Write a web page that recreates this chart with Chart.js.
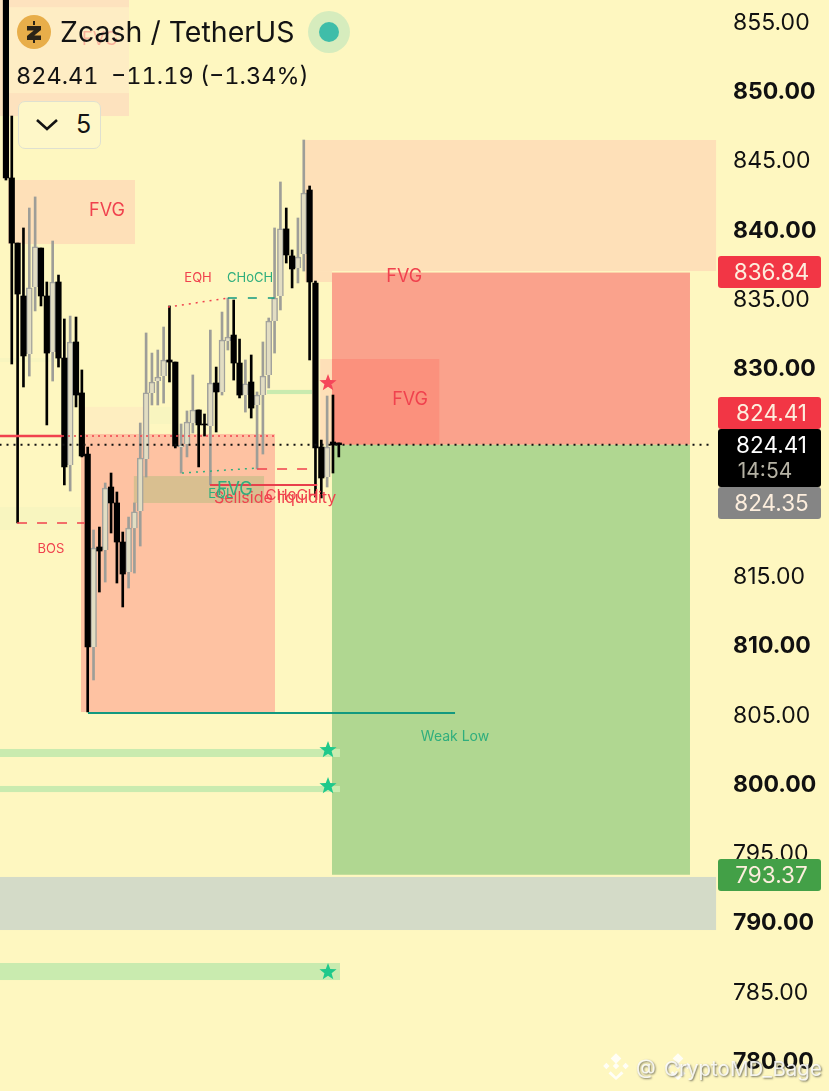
<!DOCTYPE html>
<html>
<head>
<meta charset="utf-8">
<title>Zcash / TetherUS</title>
<script src="https://cdn.jsdelivr.net/npm/chart.js@4"></script>
<style>
    html, body { margin: 0; padding: 0; background: #fef7c0; overflow: hidden; }
    #wrap { position: relative; width: 829px; height: 1091px; font-family: Inter, sans-serif; color: #131313; }
    #wrap div, #wrap svg { position: absolute; }
    .mark { color: rgba(255,255,255,0.85); text-shadow: 1px 1px 2px rgba(70,70,60,0.75); font-size: 20.500px; white-space: nowrap; }
</style>
</head>
<body>
<div id="wrap">
    <canvas id="chart"></canvas>
    <svg style="left:17px;top:15px" width="34" height="34" viewBox="0 0 34 34">
        <circle cx="17" cy="17" r="17" fill="#e8ae4a"/>
        <path d="M17 6v4M17 24v4M11 12h12v2.5L14.5 21.5H23v2.500H11v-2.500L19.500 14.500H11z" stroke="#2b2418" stroke-width="2" fill="#2b2418"/>
    </svg>
    <div style="left:60px;top:14px;font-size:28.500px;line-height:36px;white-space:nowrap">Zcash / TetherUS</div>
    <svg style="left:308px;top:11px" width="42" height="42">
        <circle cx="21" cy="21" r="21" fill="#d6ecbd"/>
        <circle cx="21" cy="21" r="10" fill="#3fbda9"/>
    </svg>
    <div style="left:16px;top:61px;font-size:23.500px;line-height:30px;white-space:pre;font-variant-numeric:tabular-nums">824.41  −11.19 (−1.34%)</div>
    <div style="left:18px;top:101px;width:81px;height:46px;border:1.5px solid #dfe0d0;border-radius:7px;background:#fef7c8"></div>
    <svg style="left:35px;top:118px" width="24" height="14"><path d="M2 2L12 11L22 2" stroke="#131313" stroke-width="2.600" fill="none"/></svg>
    <div style="left:76px;top:109px;font-size:25px;line-height:30px">5</div>
    <svg style="left:601px;top:1051px" width="30" height="30" viewBox="0 0 28 28" fill="rgba(255,255,255,0.85)">
        <path d="M14 2l5 5-5 5-5-5zM5 11l3 3-3 3-3-3zM23 11l3 3-3 3-3-3zM14 11l3 3-3 3-3-3zM9 19l5 5 5-5 2 2-7 6-7-6z"/>
    </svg>
    <svg style="left:663px;top:1051px" width="30" height="30" viewBox="0 0 28 28" fill="rgba(255,255,255,0.85)">
        <path d="M14 2l5 5-5 5-5-5zM5 11l3 3-3 3-3-3zM23 11l3 3-3 3-3-3zM14 11l3 3-3 3-3-3zM9 19l5 5 5-5 2 2-7 6-7-6z"/>
    </svg>
    <div class="mark" style="left:636px;top:1054px">@</div>
    <div class="mark" style="left:664px;top:1056px">CryptoMD_Bage</div>
</div>

<script>
// candles, first one sits at bar 1
var firstBar = 1;
var candleOpen = [858, 843.67, 838.97, 835.15, 830.96, 835.80, 838.61, 835.15, 831.11, 836.16,
    830.67, 822.95, 831.83, 828.15, 823.74, 809.81, 817.03, 816.81, 821.36, 820.21,
    817.39, 815.23, 818.40, 819.63, 823.38, 828.15, 829.01, 829.37, 830.53, 830.38,
    824.25, 824.47, 825.98, 826.92, 825.91, 825.76, 828.87, 828.22, 831.90, 832.33,
    830.31, 828.00, 828.94, 827.28, 828.00, 829.45, 833.34, 835.15, 839.99, 838.04,
    837.17, 838.18, 842.80, 836.09, 824.25, 822.08, 824.61, 824.54];
var candleHigh = [858, 848.14, 838.97, 840.06, 841.50, 842.30, 838.61, 836.16, 839.12, 836.66,
    833.49, 833.70, 833.63, 829.81, 824.25, 818.26, 818.47, 821.65, 822.37, 821.00,
    818.11, 819.19, 820.21, 825.98, 832.48, 831.03, 831.25, 832.91, 834.43, 830.38,
    825.91, 826.85, 829.45, 826.92, 826.63, 832.69, 830.02, 833.99, 835.00, 834.86,
    832.04, 830.53, 830.89, 828.22, 831.83, 833.56, 840.06, 843.38, 841.50, 838.47,
    840.78, 846.41, 843.09, 836.23, 824.75, 827.93, 828.00, 824.54];
var candleLow = [843.52, 830.24, 818.76, 828.58, 829.37, 834.07, 834.43, 825.84, 829.01, 830.02,
    821.51, 821.07, 827.14, 823.53, 805.12, 807.43, 813.78, 814.50, 818.04, 814.43,
    812.70, 814.07, 815.15, 817.10, 822.08, 827.28, 827.28, 827.42, 828.94, 824.18,
    822.37, 823.53, 825.26, 822.81, 825.04, 821.51, 825.33, 828.00, 831.25, 829.08,
    827.79, 826.77, 826.34, 822.66, 823.74, 828.51, 831.03, 834.14, 837.53, 835.73,
    836.09, 836.95, 830.53, 820.64, 820.57, 821.36, 822.37, 823.53];
var candleClose = [843.67, 838.97, 835.29, 830.82, 835.73, 838.69, 835.15, 831.03, 836.16, 830.67,
    822.81, 831.83, 828.00, 823.60, 809.81, 816.96, 816.74, 821.29, 820.21, 817.39,
    815.08, 818.40, 819.56, 823.45, 828.15, 828.94, 829.30, 830.53, 830.38, 824.32,
    824.39, 826.05, 826.92, 825.84, 825.84, 828.87, 828.22, 831.97, 832.19, 830.31,
    828.00, 828.80, 827.06, 828.00, 829.37, 833.34, 835.00, 839.99, 838.11, 837.10,
    837.96, 842.58, 836.16, 824.18, 822.01, 824.25, 824.39, 824.41];

var tickPrices = [855, 850, 845, 840, 835, 830, 825, 820, 815, 810, 805, 800, 795, 790, 785, 780];

// zones: [left bar, right bar, top price, bottom price]
var peachZones = [[1.35, 23.1, 843.52, 838.9], [52.2, 122.6, 846.41, 836.95], [52.2, 56.83, 836.95, 836.16], [54.8, 56.83, 830.6, 824.41]];
var topFvgZone = [-0.1, 22.07, 857, 848.14];
var topFvgFade = [1.35, 22.07, 856, 849.8];
var stopZone = [56.83, 118.13, 836.84, 824.41];
var overlapZone = [56.83, 75.2, 830.6, 824.41];
var targetZone = [56.83, 118.13, 824.41, 793.37];
var salmonZone = [13.85, 47.07, 825.19, 805.12];
var faintPeachZone = [14.54, 24.5, 827.14, 825.19];
var tanZone = [22.9, 45.2, 822.15, 820.21];
var grayZone = [-0.1, 122.6, 793.21, 789.38];
var greenBands = [[-0.1, 58.2, 802.45, 801.87], [-0.1, 58.2, 799.78, 799.34], [-0.1, 58.2, 787.0, 785.77], [45.7, 53.4, 828.37, 828.07]];
var faintGreenZones = [[25.7, 29.3, 827.14, 825.91], [-0.1, 13.85, 819.92, 818.26], [-0.1, 10.2, 830.67, 830.38]];

// level lines: [bar, price, bar, price]
var blackDotted = [-0.1, 824.41, 121.9, 824.41];
var redSolid = [-0.1, 825.04, 10.6, 825.04];
var redDotted = [10.6, 825.04, 47.07, 825.04];
var bosLine = [2.9, 818.76, 14.5, 818.76];
var weakLowLine = [15.05, 805.05, 77.9, 805.05];
var eqhLine = [28.75, 834.35, 39, 835.0];
var chochLine = [39, 835.0, 47, 835.0];
var eqlLine = [31.15, 822.37, 44, 822.73];
var chochRedDash = [44, 822.66, 53.9, 822.66];
var sweepLine = [35.95, 821.51, 54.3, 821.51];

var starBars = [56.15, 56.15, 56.15, 56.15];
var starPrices = [828.87, 802.38, 799.78, 786.35];

var redLabels = ['FVG', 'FVG', 'FVG', 'EQH', 'BOS', 'CHoCH', 'Sellside liquidity'];
var redLabelBars = [18.3, 69.2, 70.2, 33.9, 8.7, 50, 47.1];
var redLabelPrices = [841.28, 836.52, 827.64, 836.45, 816.89, 820.78, 820.57];
var greenLabels = ['CHoCH', 'Weak Low', 'EQL', 'FVG'];
var greenLabelBars = [42.8, 77.9, 37.8, 40.2];
var greenLabelPrices = [836.45, 803.3, 820.86, 821.15];

var tagPrices = ['836.84', '824.41', '824.35', '793.37'];

// build bar data from the candle arrays
var wickBlack = [], wickGray = [], bodyBlack = [], bodyGray = [];
for (var i = 0; i < candleOpen.length; i++) {
    var bar = firstBar + i;
    if (candleClose[i] > candleOpen[i]) {
        wickGray.push({ x: bar, y: [candleLow[i], candleHigh[i]] });
        bodyGray.push({ x: bar, y: [candleOpen[i], candleClose[i]] });
    } else {
        wickBlack.push({ x: bar, y: [candleLow[i], candleHigh[i]] });
        bodyBlack.push({ x: bar, y: [candleClose[i], candleOpen[i]] });
    }
}

function lineSet(pts, color, width, dash) {
    return {
        type: 'line',
        data: [{ x: pts[0], y: pts[1] }, { x: pts[2], y: pts[3] }],
        borderColor: color,
        borderWidth: width,
        borderDash: dash || [],
        pointRadius: 0,
        order: 0
    };
}

function star(ctx, cx, cy, r, color) {
    ctx.beginPath();
    for (var k = 0; k < 10; k++) {
        var rad = k % 2 === 0 ? r : r * 0.42;
        var a = -Math.PI / 2 + k * Math.PI / 5;
        ctx.lineTo(cx + rad * Math.cos(a), cy + rad * Math.sin(a));
    }
    ctx.closePath();
    ctx.fillStyle = color;
    ctx.fill();
}

function labelSize(text, color) {
    if (text === 'FVG') return 18;
    if (text === 'Sellside liquidity') return 16;
    if (text === 'Weak Low') return 14;
    if (text === 'CHoCH' && color === '#f0424e') return 15;
    return 13;
}

var overlay = {
    id: 'overlay',
    beforeDatasetsDraw: function (chart) {
        var ctx = chart.ctx, sx = chart.scales.x, sy = chart.scales.y;
        function zone(z, color) {
            var x0 = sx.getPixelForValue(z[0]), x1 = sx.getPixelForValue(z[1]);
            var y0 = sy.getPixelForValue(z[2]), y1 = sy.getPixelForValue(z[3]);
            ctx.fillStyle = color;
            ctx.fillRect(x0, y0, x1 - x0, y1 - y0);
        }
        ctx.save();
        zone(topFvgZone, '#fde2be');
        zone(topFvgFade, '#feedc4');
        peachZones.forEach(function (z) { zone(z, '#fee0b8'); });
        zone(faintPeachZone, '#feeec0');
        zone(salmonZone, '#fec2a2');
        zone(tanZone, '#d9bf90');
        zone(stopZone, '#faa28c');
        zone(overlapZone, '#fb917d');
        zone(targetZone, '#b0d791');
        zone(grayZone, '#d4dbc8');
        greenBands.forEach(function (z) { zone(z, '#c9ebaf'); });
        faintGreenZones.forEach(function (z) { zone(z, '#f8f5bf'); });
        ctx.restore();
    },
    afterDatasetsDraw: function (chart) {
        var ctx = chart.ctx, sx = chart.scales.x, sy = chart.scales.y;
        ctx.save();
        ctx.textAlign = 'center';
        ctx.textBaseline = 'middle';

        function labels(texts, bars, prices, color) {
            ctx.fillStyle = color;
            texts.forEach(function (t, k) {
                ctx.font = labelSize(t, color) + 'px Inter, sans-serif';
                ctx.fillText(t, sx.getPixelForValue(bars[k]), sy.getPixelForValue(prices[k]));
            });
        }
        labels(redLabels, redLabelBars, redLabelPrices, '#f0424e');
        labels(greenLabels, greenLabelBars, greenLabelPrices, '#2fae7d');

        // FVG washed out behind the header
        ctx.fillStyle = 'rgba(240,66,78,0.35)';
        ctx.font = '18px Inter, sans-serif';
        ctx.fillText('FVG', sx.getPixelForValue(17.1), sy.getPixelForValue(853.63));

        starBars.forEach(function (b, k) {
            star(ctx, sx.getPixelForValue(b), sy.getPixelForValue(starPrices[k]), 9, k === 0 ? '#f5465a' : '#1fc98b');
        });

        // price tags on the axis
        function tag(top, h, color) {
            ctx.fillStyle = color;
            ctx.beginPath();
            ctx.roundRect(718, top, 103, h, 3);
            ctx.fill();
        }
        var tagCenter = [272, 413, 503, 875];
        var tagColor = ['#f23645', '#f23645', '#858585', '#43a047'];
        tagPrices.forEach(function (t, k) {
            tag(tagCenter[k] - 16, 32, tagColor[k]);
        });
        tag(429, 58, '#000000');
        ctx.font = '22.5px Inter, sans-serif';
        ctx.fillStyle = '#fdeedd';
        tagPrices.forEach(function (t, k) {
            ctx.fillText(t, 771.5, tagCenter[k] + 1);
        });
        ctx.fillStyle = '#ffffff';
        ctx.fillText('824.41', 771.5, 446);
        ctx.fillStyle = '#b5b2a4';
        ctx.font = '21px Inter, sans-serif';
        ctx.fillText('14:54', 765, 472);
        ctx.restore();
    }
};

var ctx = document.getElementById('chart');
var chart = new Chart(ctx, {
    type: 'bar',
    data: {
        datasets: [
            lineSet(blackDotted, '#111111', 2, [2, 5]),
            lineSet(redSolid, '#f0424e', 2.5),
            lineSet(redDotted, '#f0424e', 1.5, [2, 4]),
            lineSet(bosLine, '#f0424e', 1.5, [10, 10]),
            lineSet(weakLowLine, '#12997f', 2),
            lineSet(eqhLine, '#f0424e', 1.5, [2, 5]),
            lineSet(chochLine, '#12997f', 1.5, [9, 11]),
            lineSet(eqlLine, '#2fae7d', 1.5, [2, 5]),
            lineSet(chochRedDash, '#f0424e', 1.5, [10, 10]),
            lineSet(sweepLine, '#e8404c', 2),
            { data: wickGray, backgroundColor: '#9e9e98', barThickness: 2, order: 4 },
            { data: bodyGray, backgroundColor: '#e2ddc2', borderColor: '#a2a29c', borderWidth: 1.5, barThickness: 6, order: 3 },
            { data: wickBlack, backgroundColor: '#000000', barThickness: 2, order: 2 },
            { data: bodyBlack, backgroundColor: '#000000', barThickness: 5.500, order: 1 }
        ]
    },
    options: {
        responsive: true,
        maintainAspectRatio: false,
        animation: false,
        layout: { padding: 0 },
        datasets: { bar: { grouped: false } },
        plugins: { legend: { display: false }, tooltip: { enabled: false } },
        scales: {
            x: {
                type: 'linear',
                display: false,
                min: -0.017,
                max: 124.47,
                offset: false
            },
            y: {
                position: 'right',
                min: 777.76,
                max: 856.516,
                grid: { display: false, drawTicks: false },
                border: { display: false },
                afterBuildTicks: function (scale) {
                    scale.ticks = tickPrices.map(function (v) { return { value: v }; });
                },
                afterFit: function (scale) {
                    scale.width = 102;
                    scale.paddingTop = 0;
                    scale.paddingBottom = 0;
                },
                ticks: {
                    padding: 6,
                    labelOffset: 2,
                    autoSkip: false,
                    color: '#111111',
                    font: function (c) {
                        var bold = c.tick && c.tick.value % 10 === 0;
                        return { family: 'Inter, sans-serif', size: 23, weight: bold ? 'bold' : 'normal' };
                    },
                    callback: function (value) {
                        return value.toFixed(2);
                    }
                }
            }
        }
    },
    plugins: [overlay]
});
</script>
</body>
</html>
